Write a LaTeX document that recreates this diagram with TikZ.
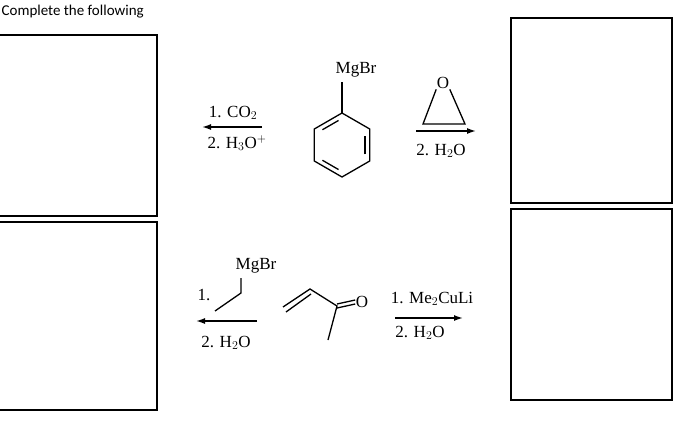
\documentclass[tikz,border=0pt]{standalone}
\usetikzlibrary{calc,arrows.meta}
\usepackage{fontspec}
\setmainfont{Liberation Serif}
\newfontfamily\titlefont{Carlito}
\begin{document}
\begin{tikzpicture}[x=1pt,y=-1pt,line width=1.3pt,
  box/.style={draw,line width=1.3pt},
  lbl/.style={font=\fontsize{17}{19}\selectfont,inner sep=0pt},
  bond/.style={line width=1.3pt},
  rxn/.style={-{Latex[length=9pt,width=6pt]},line width=1.5pt}]
\useasboundingbox (0,0) rectangle (700,420);
\node[anchor=west,font=\titlefont\fontsize{15}{17}\selectfont,inner sep=0pt] (title) at (1,12) {Complete the following};
\draw[box] (-2,35) rectangle (157,216);
\draw[box] (-2,222) rectangle (157,410);
\draw[box] (511,18) rectangle (672,203);
\draw[box] (511,209) rectangle (672,400);
% top reaction
\coordinate (a1s) at (262,127); \coordinate (a1e) at (202,127);
\draw[rxn] (a1s) -- (a1e);
\node[lbl] (co2) at (233,113) {1. CO$_2$};
\node[lbl] (h3o) at (237,143) {2. H$_3$O$^+$};
% benzene
\coordinate (bc) at (342,145);
\foreach \i in {0,...,5}{\coordinate (b\i) at ($(bc)+(270-60*\i:32)$);}
\draw[bond] (b0)--(b1)--(b2)--(b3)--(b4)--(b5)--cycle;
\draw[bond] ($ (b0)!0.15!(b1) !0.17!(bc) $) -- ($ (b0)!0.85!(b1) !0.17!(bc) $);
\draw[bond] ($ (b2)!0.15!(b3) !0.17!(bc) $) -- ($ (b2)!0.85!(b3) !0.17!(bc) $);
\draw[bond] ($ (b4)!0.15!(b5) !0.17!(bc) $) -- ($ (b4)!0.85!(b5) !0.17!(bc) $);
\node[lbl] (mgbr1) at (356,70) {MgBr};
\coordinate (mtop) at (342,82);
\draw[bond] (b0) -- (mtop);
% epoxide
\node[lbl] (o1) at (443,83) {O};
\coordinate (e1) at (423,124); \coordinate (e2) at (465,124);
\draw[bond] (o1.south west) -- (e1) -- (e2) -- (o1.south east);
\coordinate (a2s) at (416,131); \coordinate (a2e) at (476,131);
\draw[rxn] (a2s) -- (a2e);
\node[lbl] (h2o1) at (441,151) {2. H$_2$O};
% bottom left
\node[lbl] (mgbr2) at (256,266) {MgBr};
\coordinate (q1) at (241,278); \coordinate (q2) at (241,293); \coordinate (q3) at (215,311);
\draw[bond] (q1) -- (q2) -- (q3);
\node[lbl] (one) at (204,295) {1.};
\coordinate (a3s) at (257,321); \coordinate (a3e) at (196,321);
\draw[rxn] (a3s) -- (a3e);
\node[lbl] (h2o2) at (226,343) {2. H$_2$O};
% enone
\coordinate (c1) at (283,307); \coordinate (c2) at (310,289);
\coordinate (c3) at (337,306); \coordinate (c4) at (328,340);
\node[lbl] (o2) at (362,302) {O};
\draw[bond] (c1) -- (c2) -- (c3) -- (c4);
\draw[bond] ($(c1)+(3,5)$) -- ($(c2)+(1,5)$);
\draw[bond] ($(c3)+(0,-2)$) -- (o2.west |- 0,300);
\draw[bond] ($(c3)+(0,2)$) -- (o2.west |- 0,304);
\node[lbl] (me2) at (432,299) {1. Me$_2$CuLi};
\coordinate (a4s) at (395,318); \coordinate (a4e) at (463,318);
\draw[rxn] (a4s) -- (a4e);
\node[lbl] (h2o3) at (420,333) {2. H$_2$O};
\end{tikzpicture}
\end{document}
